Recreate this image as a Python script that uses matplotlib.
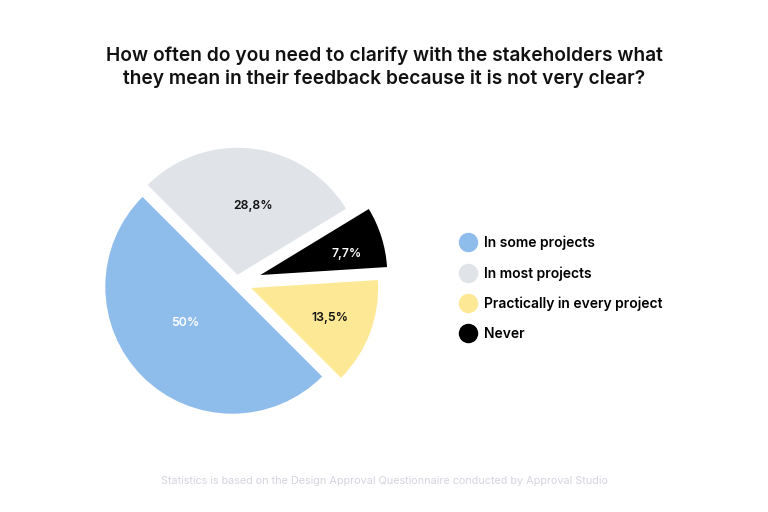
import matplotlib.pyplot as plt
from matplotlib.lines import Line2D
import numpy as np

# data in drawing order (counter-clockwise from 135 deg)
categories = ["In some projects", "Practically in every project", "Never", "In most projects"]
values = [50.0, 13.5, 7.7, 28.8]
pct_labels = ["50%", "13,5%", "7,7%", "28,8%"]
colors = ["#8FBDEB", "#FDE995", "#000000", "#E0E3E8"]
label_colors = ["white", "#111111", "white", "#111111"]
explode = [0.047, 0.123, 0.196, 0.061]
label_dist = [0.47, 0.66, 0.70, 0.555]
label_turn = [-7.5, 0.0, -4.0, -6.0]   # degrees off the wedge bisector

legend_order = [0, 3, 1, 2]

title = ("How often do you need to clarify with the stakeholders what\n"
         "they mean in their feedback because it is not very clear?")
footnote = "Statistics is based on the Design Approval Questionnaire conducted by Approval Studio"

plt.rcParams['font.family'] = ['Inter', 'DejaVu Sans']

fig = plt.figure(figsize=(7.68, 5.12), dpi=100)
fig.patch.set_facecolor('white')

# axes sized so radius 1 ~ 127 px
ax = fig.add_axes([0.0765, 0.101, 0.463, 0.6945])
wedges, _ = ax.pie(values, colors=colors, startangle=135, counterclock=True,
                   explode=explode, radius=1.0,
                   wedgeprops=dict(linewidth=0))
ax.set_xlim(-1.4, 1.4)
ax.set_ylim(-1.4, 1.4)
ax.set_aspect('equal')
ax.axis('off')

for w, lab, col, d, t in zip(wedges, pct_labels, label_colors, label_dist, label_turn):
    ang = np.deg2rad((w.theta1 + w.theta2) / 2 + t)
    cx, cy = w.center
    ax.text(cx + d * np.cos(ang), cy + d * np.sin(ang), lab, ha='center', va='center',
            fontsize=8.8, fontweight='semibold', color=col)

handles = [Line2D([], [], marker='o', linestyle='', markersize=13,
                  markerfacecolor=colors[i], markeredgecolor=colors[i]) for i in legend_order]
labels = [categories[i] for i in legend_order]
fig.legend(handles, labels, loc='center left', bbox_to_anchor=(0.582, 0.437),
           frameon=False, labelspacing=1.15, handletextpad=0.6,
           handlelength=1.2, prop=dict(weight='semibold', size=10))

fig.text(0.5, 0.868, title, ha='center', va='center', fontsize=13.8,
         fontweight='semibold', color='#111111', linespacing=1.32)
fig.text(0.5, 0.06, footnote, ha='center', va='center', fontsize=7.8, color='#d4d5de')

fig.savefig('out.png', dpi=100, facecolor='white')
